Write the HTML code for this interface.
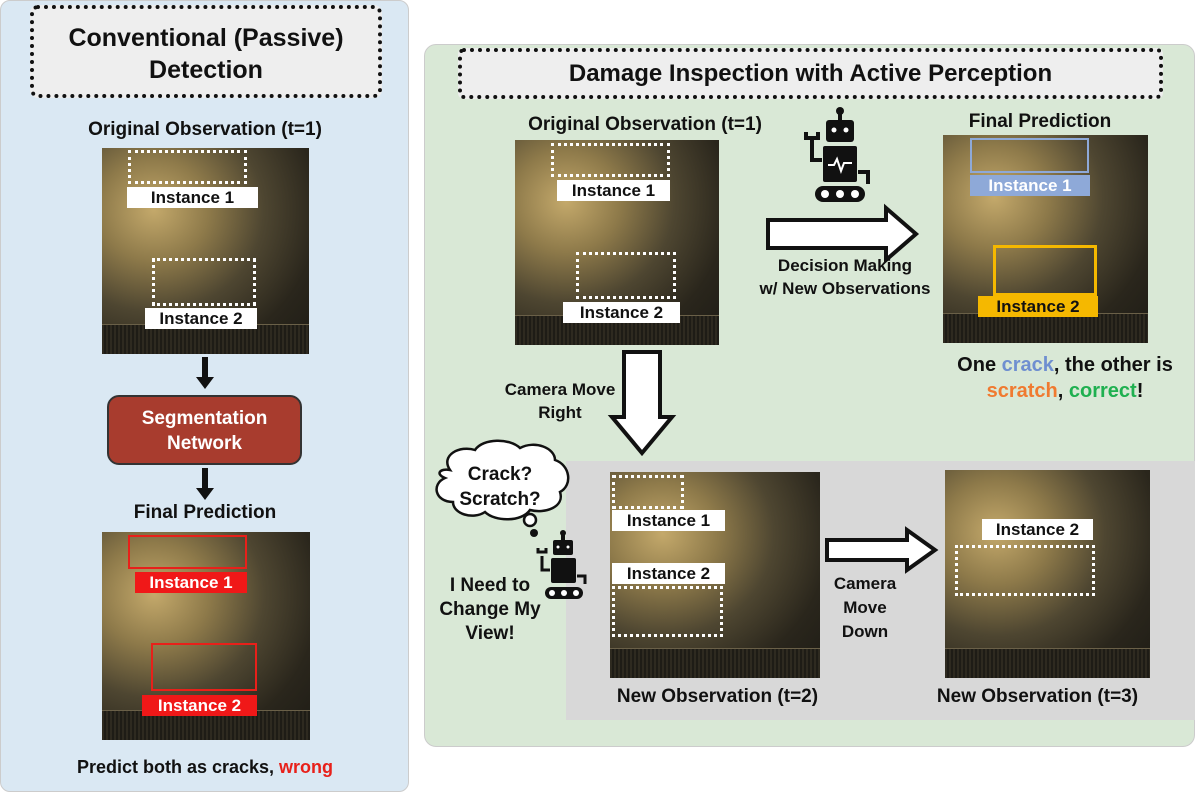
<!DOCTYPE html>
<html><head><meta charset="utf-8"><style>
body{margin:0;width:1200px;height:793px;position:relative;background:#fff;font-family:"Liberation Sans",Arial,sans-serif;font-weight:bold;overflow:hidden}
.a{position:absolute}
.t{position:absolute;text-align:center;white-space:nowrap;color:#111}
.img{position:absolute;background:radial-gradient(ellipse at 25% 30%,#c4a96b 0%,#8e7a4a 25%,#4e4631 50%,#2a261c 75%,#1d1b15 100%);overflow:hidden}
.img::after{content:"";position:absolute;left:0;right:0;bottom:0;height:14%;background:repeating-linear-gradient(90deg,#2e2a20 0 2px,#1e1c16 2px 4px);border-top:1px solid #6a6048}
.db{position:absolute;border:3px dotted #fff;box-sizing:border-box}
.lb{position:absolute;background:#fff;color:#111;font-size:17px;text-align:center;box-sizing:border-box;line-height:21px}
</style></head><body>
<!-- left panel -->
<div class="a" style="left:0;top:0;width:409px;height:792px;background:#dae8f3;border-radius:10px;border:1px solid #ccc;box-sizing:border-box"></div>
<div class="a" style="left:30px;top:5px;width:352px;height:93px;background:#eee;border:4px dotted #111;border-radius:8px;box-sizing:border-box"></div>
<div class="t" style="left:30px;width:352px;top:22px;font-size:25px;line-height:32px">Conventional (Passive)<br>Detection</div>
<div class="t" style="left:0;width:410px;top:119px;font-size:19px">Original Observation (t=1)</div>
<div class="img" style="left:102px;top:148px;width:207px;height:206px"></div>
<div class="db" style="left:128px;top:150px;width:119px;height:34px"></div>
<div class="lb" style="left:127px;top:187px;width:131px">Instance 1</div>
<div class="db" style="left:152px;top:258px;width:104px;height:48px"></div>
<div class="lb" style="left:145px;top:308px;width:112px">Instance 2</div>
<svg class="a" style="left:0;top:0" width="410" height="793"><path d="M202 357h6v20h6l-9 12-9-12h6z" fill="#111"/><path d="M202 468h6v20h6l-9 12-9-12h6z" fill="#111"/></svg>
<div class="a" style="left:107px;top:395px;width:195px;height:70px;background:#a83c2e;border:2px solid #333;border-radius:12px;box-sizing:border-box"></div>
<div class="t" style="left:107px;width:195px;top:406px;font-size:19px;line-height:25px;color:#fff">Segmentation<br>Network</div>
<div class="t" style="left:0;width:410px;top:502px;font-size:19px">Final Prediction</div>
<div class="img" style="left:102px;top:532px;width:208px;height:208px"></div>
<div class="a" style="left:128px;top:535px;width:119px;height:34px;border:2px solid #e8201a;box-sizing:border-box"></div>
<div class="lb" style="left:135px;top:572px;width:112px;background:#f01818;color:#fff">Instance 1</div>
<div class="a" style="left:151px;top:643px;width:106px;height:48px;border:2px solid #e8201a;box-sizing:border-box"></div>
<div class="lb" style="left:142px;top:695px;width:115px;background:#f01818;color:#fff">Instance 2</div>
<div class="t" style="left:0;width:410px;top:757px;font-size:18px">Predict both as cracks, <span style="color:#e8201a">wrong</span></div>

<!-- right panel -->
<div class="a" style="left:424px;top:44px;width:771px;height:703px;background:#d9e8d6;border-radius:12px;border:1px solid #ccc;box-sizing:border-box"></div>
<div class="a" style="left:458px;top:48px;width:705px;height:51px;background:#eee;border:4px dotted #111;border-radius:6px;box-sizing:border-box"></div>
<div class="t" style="left:458px;width:705px;top:60px;font-size:24px">Damage Inspection with Active Perception</div>
<div class="t" style="left:500px;width:290px;top:114px;font-size:19px">Original Observation (t=1)</div>
<div class="img" style="left:515px;top:140px;width:204px;height:205px"></div>
<div class="db" style="left:551px;top:143px;width:119px;height:34px"></div>
<div class="lb" style="left:557px;top:180px;width:113px">Instance 1</div>
<div class="db" style="left:576px;top:252px;width:100px;height:47px"></div>
<div class="lb" style="left:563px;top:302px;width:117px">Instance 2</div>
<div class="t" style="left:940px;width:200px;top:111px;font-size:19px">Final Prediction</div>
<div class="img" style="left:943px;top:135px;width:205px;height:208px"></div>
<div class="a" style="left:970px;top:138px;width:119px;height:35px;border:2px solid #8ea9d8;box-sizing:border-box"></div>
<div class="lb" style="left:970px;top:175px;width:120px;background:#8ea9d8;color:#fff">Instance 1</div>
<div class="a" style="left:993px;top:245px;width:104px;height:51px;border:3px solid #f5b800;box-sizing:border-box"></div>
<div class="lb" style="left:978px;top:296px;width:120px;background:#f5b800;color:#111">Instance 2</div>
<div class="t" style="left:950px;width:230px;top:352px;font-size:20px;line-height:26px">One <span style="color:#6f8fd0">crack</span>, the other is<br><span style="color:#f07a30">scratch</span>, <span style="color:#1fb050">correct</span>!</div>
<svg class="a" style="left:0;top:0" width="1200" height="793">
<path d="M768 220h118v-12l30 26-30 26v-12h-118z" fill="#fff" stroke="#111" stroke-width="4"/>
<path d="M624 352h36v65h12l-30 36-30-36h12z" fill="#fff" stroke="#111" stroke-width="4"/>
<rect x="566" y="461" width="629" height="259" fill="#d8d8d8"/>
<path d="M827 540h80v-10l28 20-28 20v-10h-80z" fill="#fff" stroke="#111" stroke-width="4"/>
<!-- robot 1 -->
<g fill="#111"><circle cx="840" cy="111" r="4"/><rect x="838" y="113" width="4" height="8"/><rect x="826" y="120" width="28" height="22" rx="3"/><rect x="823" y="146" width="34" height="36" rx="2"/><rect x="815" y="186" width="50" height="16" rx="8"/>
<path d="M822 160h-10v-20" stroke="#111" stroke-width="4" fill="none"/><path d="M806 132v6h12v-6" stroke="#111" stroke-width="4" fill="none"/><path d="M858 172h10v12" stroke="#111" stroke-width="4" fill="none"/></g>
<g fill="#fff"><circle cx="834" cy="130" r="2.5"/><circle cx="846" cy="130" r="2.5"/><circle cx="825" cy="194" r="4"/><circle cx="840" cy="194" r="4"/><circle cx="855" cy="194" r="4"/></g>
<path d="M828 165h6l3-6 4 12 3-8h8" stroke="#fff" stroke-width="2" fill="none"/>
<!-- cloud -->
<path d="M450 470c-10-15 10-25 25-20 8-12 35-12 45-2 15-8 35 0 35 12 15 5 18 25 5 32 5 15-15 22-30 18-8 12-35 12-45 2-12 8-32 2-32-10-18 0-22-18-8-24-10-4-5-10 5-8z" fill="#fff" stroke="#111" stroke-width="2.5"/>
<circle cx="530" cy="520" r="6" fill="#fff" stroke="#111" stroke-width="2.5"/>
<circle cx="534" cy="533" r="4" fill="#111"/>
<!-- robot 2 -->
<g fill="#111"><circle cx="563" cy="533" r="3"/><rect x="561" y="535" width="4" height="6"/><rect x="553" y="540" width="20" height="15" rx="2"/><rect x="551" y="558" width="25" height="25" rx="2"/><rect x="545" y="587" width="38" height="12" rx="6"/>
<path d="M550 570h-8v-14" stroke="#111" stroke-width="3" fill="none"/><path d="M538 548v4h8v-4" stroke="#111" stroke-width="3" fill="none"/><path d="M577 576h8v8" stroke="#111" stroke-width="3" fill="none"/></g>
<g fill="#fff"><circle cx="558" cy="547" r="1.5"/><circle cx="568" cy="547" r="1.5"/><circle cx="552" cy="593" r="3"/><circle cx="564" cy="593" r="3"/><circle cx="576" cy="593" r="3"/></g>
</svg>
<div class="t" style="left:745px;width:200px;top:254px;font-size:17px;line-height:23px">Decision Making<br>w/ New Observations</div>
<div class="t" style="left:490px;width:140px;top:378px;font-size:17px;line-height:23px">Camera Move<br>Right</div>
<div class="t" style="left:440px;width:120px;top:462px;font-size:19px;line-height:25px">Crack?<br>Scratch?</div>
<div class="t" style="left:420px;width:140px;top:574px;font-size:19px;line-height:24px">I Need to<br>Change My<br>View!</div>
<div class="img" style="left:610px;top:472px;width:210px;height:206px"></div>
<div class="db" style="left:612px;top:475px;width:72px;height:34px"></div>
<div class="lb" style="left:612px;top:510px;width:113px">Instance 1</div>
<div class="lb" style="left:612px;top:563px;width:113px">Instance 2</div>
<div class="db" style="left:612px;top:586px;width:111px;height:51px"></div>
<div class="t" style="left:590px;width:255px;top:686px;font-size:19px">New Observation (t=2)</div>
<div class="t" style="left:810px;width:110px;top:572px;font-size:17px;line-height:24px">Camera<br>Move<br>Down</div>
<div class="img" style="left:945px;top:470px;width:205px;height:208px"></div>
<div class="lb" style="left:982px;top:519px;width:111px">Instance 2</div>
<div class="db" style="left:955px;top:545px;width:140px;height:51px"></div>
<div class="t" style="left:910px;width:255px;top:686px;font-size:19px">New Observation (t=3)</div>
</body></html>
